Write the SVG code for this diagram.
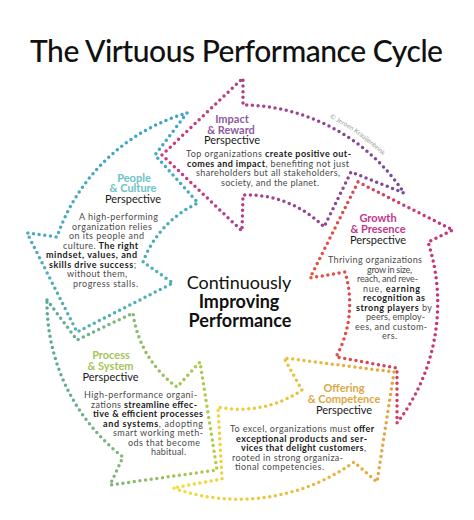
<svg xmlns="http://www.w3.org/2000/svg" width="474" height="520" viewBox="0 0 474 520">
<defs>
<linearGradient id="gImpact" gradientUnits="userSpaceOnUse" x1="165" y1="0" x2="405" y2="0"><stop offset="0" stop-color="#cd3a7f"/><stop offset="0.4" stop-color="#a8428f"/><stop offset="1" stop-color="#744c98"/></linearGradient>
<linearGradient id="gPeople" gradientUnits="userSpaceOnUse" x1="0" y1="110" x2="0" y2="335"><stop offset="0" stop-color="#3ba5c9"/><stop offset="1" stop-color="#52b2b2"/></linearGradient>
<linearGradient id="gGrowth" gradientUnits="userSpaceOnUse" x1="310" y1="0" x2="455" y2="0"><stop offset="0" stop-color="#e5563a"/><stop offset="1" stop-color="#c42f82"/></linearGradient>
<linearGradient id="gOffering" gradientUnits="userSpaceOnUse" x1="175" y1="0" x2="395" y2="0"><stop offset="0" stop-color="#f3de3a"/><stop offset="1" stop-color="#e2a443"/></linearGradient>
<linearGradient id="gProcess" gradientUnits="userSpaceOnUse" x1="45" y1="0" x2="220" y2="0"><stop offset="0" stop-color="#58a99b"/><stop offset="1" stop-color="#b6cd44"/></linearGradient>
<path id="copyArc" d="M 329.6,117.9 A 203 203 0 0 1 400,175"/>
</defs>
<style>
.dots{fill:none;stroke-width:3.5;stroke-linecap:round;stroke-linejoin:round;stroke-dasharray:0 5.7}
text{font-family:Lato,"Open Sans",sans-serif}
.title{font-size:30px;font-weight:500;fill:#111}
.center{font-size:18px;fill:#111;text-anchor:middle}
.lbl{font-size:11px;font-weight:700;text-anchor:middle}
.persp{font-size:11px;fill:#1a1a1a;text-anchor:middle}
.body{font-size:9px;fill:#4a4a4a}
.b{font-weight:700;fill:#1a1a1a}
.copy{font-size:6.5px;fill:#9a9a9a}
</style>
<rect width="474" height="520" fill="#fff"/>
<text class="title" x="30" y="62" textLength="413">The Virtuous Performance Cycle</text>

<g id="impact">
<path class="dots" stroke="url(#gImpact)" d="M 162,155 L 243,78 L 243,105 A 195 195 0 0 1 404,193 L 351,172 L 324,227 A 108 108 0 0 0 243,195 L 242,231 Z"/>
<text class="lbl" fill="#8e5b9f" x="232" y="123">Impact</text>
<text class="lbl" fill="#8e5b9f" x="231" y="134">&amp; Reward</text>
<text class="persp" x="232" y="144">Perspective</text>
<text class="body" x="186" y="157" textLength="165">Top organizations <tspan class="b">create positive out-</tspan></text>
<text class="body" x="187" y="166.7" textLength="162"><tspan class="b">comes and impact</tspan>, benefiting not just</text>
<text class="body" x="196" y="176.3" textLength="144">shareholders but all stakeholders,</text>
<text class="body" x="221" y="186" textLength="98">society, and the planet.</text>
</g>

<g id="people">
<path class="dots" stroke="url(#gPeople)" d="M 187,113 L 155,155 L 198,203 A 106 106 0 0 0 143,262 L 173,283 L 77,332 L 27,233 L 57,237 A 194 194 0 0 1 187,113 Z"/>
<text class="lbl" fill="#6cc3c8" x="134" y="182">People</text>
<text class="lbl" fill="#6cc3c8" x="133" y="192">&amp; Culture</text>
<text class="persp" x="133" y="203">Perspective</text>
<text class="body" x="79" y="220" textLength="79">A high-performing</text>
<text class="body" x="72" y="229.5" textLength="80">organization relies</text>
<text class="body" x="69" y="239" textLength="75">on its people and</text>
<text class="body" x="63" y="248.5" textLength="75">culture. <tspan class="b">The right</tspan></text>
<text class="body" x="46" y="258" textLength="91"><tspan class="b">mindset, values, and</tspan></text>
<text class="body" x="49" y="267.5" textLength="87"><tspan class="b">skills drive success</tspan>;</text>
<text class="body" x="67" y="277" textLength="60">without them,</text>
<text class="body" x="73" y="286.5" textLength="65">progress stalls.</text>
</g>

<g id="growth">
<path class="dots" stroke="url(#gGrowth)" d="M 358,182 L 453,230 L 428,242 A 197 197 0 0 1 397,423 L 397,368 L 336,357 A 110 110 0 0 0 345,272 L 310,278 Z"/>
<text class="lbl" fill="#c2378a" x="378" y="222">Growth</text>
<text class="lbl" fill="#c2378a" x="378" y="233">&amp; Presence</text>
<text class="persp" x="378" y="244">Perspective</text>
<text class="body" x="328" y="263" textLength="94">Thriving organizations</text>
<text class="body" x="367" y="272.5" textLength="45">grow in size,</text>
<text class="body" x="357" y="282" textLength="61">reach, and reve-</text>
<text class="body" x="363" y="291.5" textLength="57">nue, <tspan class="b">earning</tspan></text>
<text class="body" x="363" y="301" textLength="62"><tspan class="b">recognition as</tspan></text>
<text class="body" x="356" y="310.5" textLength="76"><tspan class="b">strong players</tspan> by</text>
<text class="body" x="366" y="320" textLength="59">peers, employ-</text>
<text class="body" x="355" y="329.5" textLength="72">ees, and custom-</text>
<text class="body" x="382" y="339" textLength="15">ers.</text>
</g>

<g id="offering">
<path class="dots" stroke="url(#gOffering)" d="M 394,372 L 377,482 L 354,462 A 198 198 0 0 1 173,488 L 222,479 L 218,407 A 110 110 0 0 0 302,390 L 284,358 Z"/>
<text class="lbl" fill="#dba843" x="344" y="392">Offering</text>
<text class="lbl" fill="#dba843" x="344" y="403">&amp; Competence</text>
<text class="persp" x="344" y="414">Perspective</text>
<text class="body" x="230" y="432" textLength="144">To excel, organizations must <tspan class="b">offer</tspan></text>
<text class="body" x="236" y="441.5" textLength="131"><tspan class="b">exceptional products and ser-</tspan></text>
<text class="body" x="241" y="451" textLength="125"><tspan class="b">vices that delight customers</tspan>,</text>
<text class="body" x="232" y="460.5" textLength="111">rooted in strong organiza-</text>
<text class="body" x="235" y="470" textLength="89">tional competencies.</text>
</g>

<g id="process">
<path class="dots" stroke="url(#gProcess)" d="M 47,300 L 77,340 L 133,313 A 108 108 0 0 0 177,387 L 200,362 L 217,470 L 110,485 L 123,457 A 196 196 0 0 1 47,300 Z"/>
<text class="lbl" fill="#a7c45c" x="111" y="359">Process</text>
<text class="lbl" fill="#a7c45c" x="110.5" y="370">&amp; System</text>
<text class="persp" x="110.5" y="381">Perspective</text>
<text class="body" x="84" y="398" textLength="113">High-performance organi-</text>
<text class="body" x="91" y="407.5" textLength="106">zations <tspan class="b">streamline effec-</tspan></text>
<text class="body" x="93" y="417" textLength="110"><tspan class="b">tive &amp; efficient processes</tspan></text>
<text class="body" x="103" y="426.5" textLength="100"><tspan class="b">and systems</tspan>, adopting</text>
<text class="body" x="113" y="436" textLength="90">smart working meth-</text>
<text class="body" x="128" y="445.5" textLength="72">ods that become</text>
<text class="body" x="151" y="455" textLength="35">habitual.</text>
</g>

<g id="core">
<text class="center" x="239" y="289">Continuously</text>
<text class="center" x="239" y="308" font-weight="700">Improving</text>
<text class="center" x="240" y="327" font-weight="700">Performance</text>
</g>

<text class="copy"><textPath href="#copyArc">© Jeroen Kraaijenbrink</textPath></text>
</svg>
